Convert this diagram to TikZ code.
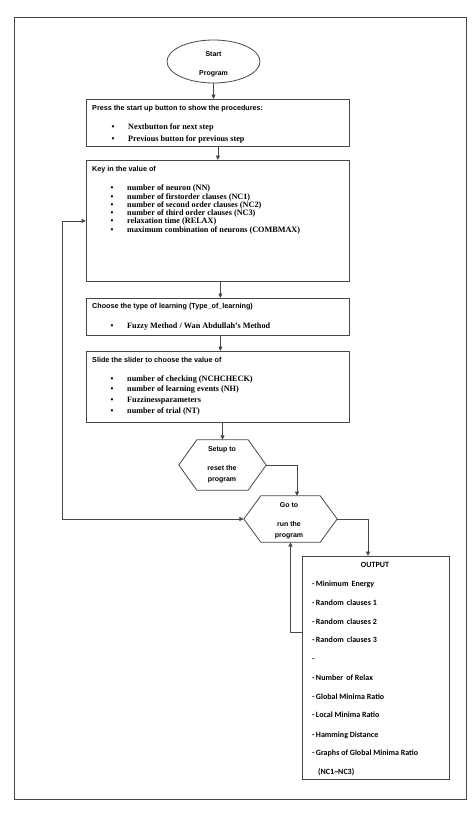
\documentclass[tikz,border=0pt]{standalone}
\usepackage{fontspec}
\setmainfont{Liberation Serif}
\newfontfamily\hdrfont{Liberation Sans}
\newfontfamily\outfont{Carlito}
\usetikzlibrary{shapes.geometric,arrows.meta,calc}
\definecolor{lc}{gray}{0.28}
\tikzset{
  ln/.style={draw=lc, line width=0.8pt},
  arr/.style={ln, -{Triangle[length=4.5pt,width=4pt]}},
  box/.style={draw=lc, line width=0.8pt, anchor=north west, inner sep=0pt, minimum width=263pt},
  hexn/.style={inner sep=0pt, draw=none},
  hd/.style={anchor=mid west, inner sep=0pt, font=\hdrfont\bfseries\fontsize{7.2}{8}\selectfont},
  it/.style={anchor=mid west, inner sep=0pt, font=\bfseries\fontsize{8.2}{9}\selectfont},
  bl/.style={anchor=mid, inner sep=0pt, font=\bfseries\fontsize{8.2}{9}\selectfont},
  hx/.style={anchor=mid, inner sep=0pt, font=\hdrfont\bfseries\fontsize{7}{8}\selectfont},
  ot/.style={anchor=mid west, inner sep=0pt, font=\outfont\bfseries\fontsize{8}{9}\selectfont},
}
\begin{document}
\begin{tikzpicture}[x=1pt,y=-1pt]
\useasboundingbox (0,0) rectangle (474,814);
\draw[ln] (14,17) rectangle (466,799);

% start ellipse
\node[ellipse, draw=lc, line width=0.8pt, minimum width=93pt, minimum height=43pt, inner sep=0pt] (start) at (213.5,61.5) {};
\node[hx] (st1) at (213.5,54) {Start};
\node[hx] (st2) at (213.5,73) {Program};

% box 1
\node[box, minimum height=47pt] (b1) at (86,99) {};
\node[hd] (b1h) at (92,108) {Press the start up button to show the procedures:};
\node[bl] (b1b1) at (113,127) {•};
\node[it] (b1i1) at (128,127) {Nextbutton for next step};
\node[bl] (b1b2) at (113,139) {•};
\node[it] (b1i2) at (128,139) {Previous button for previous step};

% box 2
\node[box, minimum height=121pt] (b2) at (86,160) {};
\node[hd] (b2h) at (92,169) {Key in the value of};
\node[bl] (b2b1) at (112,188.3) {•};
\node[it] (b2i1) at (127,188.3) {number of neuron (NN)};
\node[bl] (b2b2) at (112,197.3) {•};
\node[it] (b2i2) at (127,197.3) {number of firstorder clauses (NC1)};
\node[bl] (b2b3) at (112,205.7) {•};
\node[it] (b2i3) at (127,205.7) {number of second order clauses (NC2)};
\node[bl] (b2b4) at (112,213.7) {•};
\node[it] (b2i4) at (127,213.7) {number of third order clauses (NC3)};
\node[bl] (b2b5) at (112,221.3) {•};
\node[it] (b2i5) at (127,221.3) {relaxation time (RELAX)};
\node[bl] (b2b6) at (112,230) {•};
\node[it] (b2i6) at (127,230) {maximum combination of neurons (COMBMAX)};

% box 3
\node[box, minimum height=37pt] (b3) at (86,298) {};
\node[hd] (b3h) at (92,306) {Choose the type of learning (Type\_of\_learning)};
\node[bl] (b3b1) at (112,326) {•};
\node[it] (b3i1) at (127,326) {Fuzzy Method / Wan Abdullah’s Method};

% box 4
\node[box, minimum height=71pt] (b4) at (86,351) {};
\node[hd] (b4h) at (92,360) {Slide the slider to choose the value of};
\node[bl] (b4b1) at (112,379) {•};
\node[it] (b4i1) at (127,379) {number of checking (NCHCHECK)};
\node[bl] (b4b2) at (112,389.3) {•};
\node[it] (b4i2) at (127,389.3) {number of learning events (NH)};
\node[bl] (b4b3) at (112,400) {•};
\node[it] (b4i3) at (127,400) {Fuzzinessparameters};
\node[bl] (b4b4) at (112,410.7) {•};
\node[it] (b4i4) at (127,410.7) {number of trial (NT)};

% hexagon 1
\node[hexn, minimum width=87pt, minimum height=50pt] (h1) at (222.5,465) {};
\draw[ln] (h1.west) -- ($(h1.north west)+(18,0)$) -- ($(h1.north east)+(-18,0)$) -- (h1.east)
  -- ($(h1.south east)+(-18,0)$) -- ($(h1.south west)+(18,0)$) -- cycle;
\node[hx] (h1t1) at (222,449) {Setup to};
\node[hx] (h1t2) at (222,468) {reset the};
\node[hx] (h1t3) at (222,479) {program};

% hexagon 2
\node[hexn, minimum width=93pt, minimum height=46pt] (h2) at (290.5,519) {};
\draw[ln] (h2.west) -- ($(h2.north west)+(17,0)$) -- ($(h2.north east)+(-17,0)$) -- (h2.east)
  -- ($(h2.south east)+(-17,0)$) -- ($(h2.south west)+(17,0)$) -- cycle;
\node[hx] (h2t1) at (289,505) {Go to};
\node[hx] (h2t2) at (289,524) {run the};
\node[hx] (h2t3) at (289,535) {program};

% output box
\node[draw=lc, line width=0.8pt, anchor=north west, inner sep=0pt, minimum width=147pt, minimum height=223pt] (out) at (302,556) {};
\node[anchor=mid, inner sep=0pt, font=\outfont\bfseries\fontsize{8}{9}\selectfont] (o0) at (375,565) {OUTPUT};
\node[ot] (o1) at (312,584) {-\,Minimum\, Energy};
\node[ot] (o2) at (312,603) {-\,Random\, clauses 1};
\node[ot] (o3) at (312,622) {-\,Random\, clauses 2};
\node[ot] (o4) at (312,640) {-\,Random\, clauses 3};
\node[ot] (o5) at (312,659) {-};
\node[ot] (o6) at (312,678) {-\,Number\, of Relax};
\node[ot] (o7) at (312,697) {-\,Global Minima Ratio};
\node[ot] (o8) at (312,715) {-\,Local Minima Ratio};
\node[ot] (o9) at (312,735) {-\,Hamming Distance};
\node[ot] (o10) at (312,753) {-\,Graphs of Global Minima Ratio};
\node[ot] (o11) at (318,772) {(NC1\textasciitilde NC3)};

% connectors
\draw[arr] (start.south) -- (start.south |- b1.north);
\draw[arr] (b1.south) -- (b2.north);
\draw[arr] ($(b2.south)+(2.5,0)$) -- ($(b3.north)+(2.5,0)$);
\draw[arr] ($(b3.south)+(2.5,0)$) -- ($(b4.north)+(2.5,0)$);
\draw[arr] (h1.north |- b4.south) -- (h1.north);
\coordinate (h2in) at (297,496);
\draw[arr] (h1.east) -| (h2in);
\coordinate (lp) at (62,519);
\draw[arr] (lp) |- (b2.west);
\draw[arr] (lp) -- (h2.west);
\coordinate (oin) at (368,556);
\draw[arr] (h2.east) -| (oin);
\coordinate (fb) at (302,632);
\draw[arr] (fb) -| (h2.south);
\end{tikzpicture}
\end{document}
